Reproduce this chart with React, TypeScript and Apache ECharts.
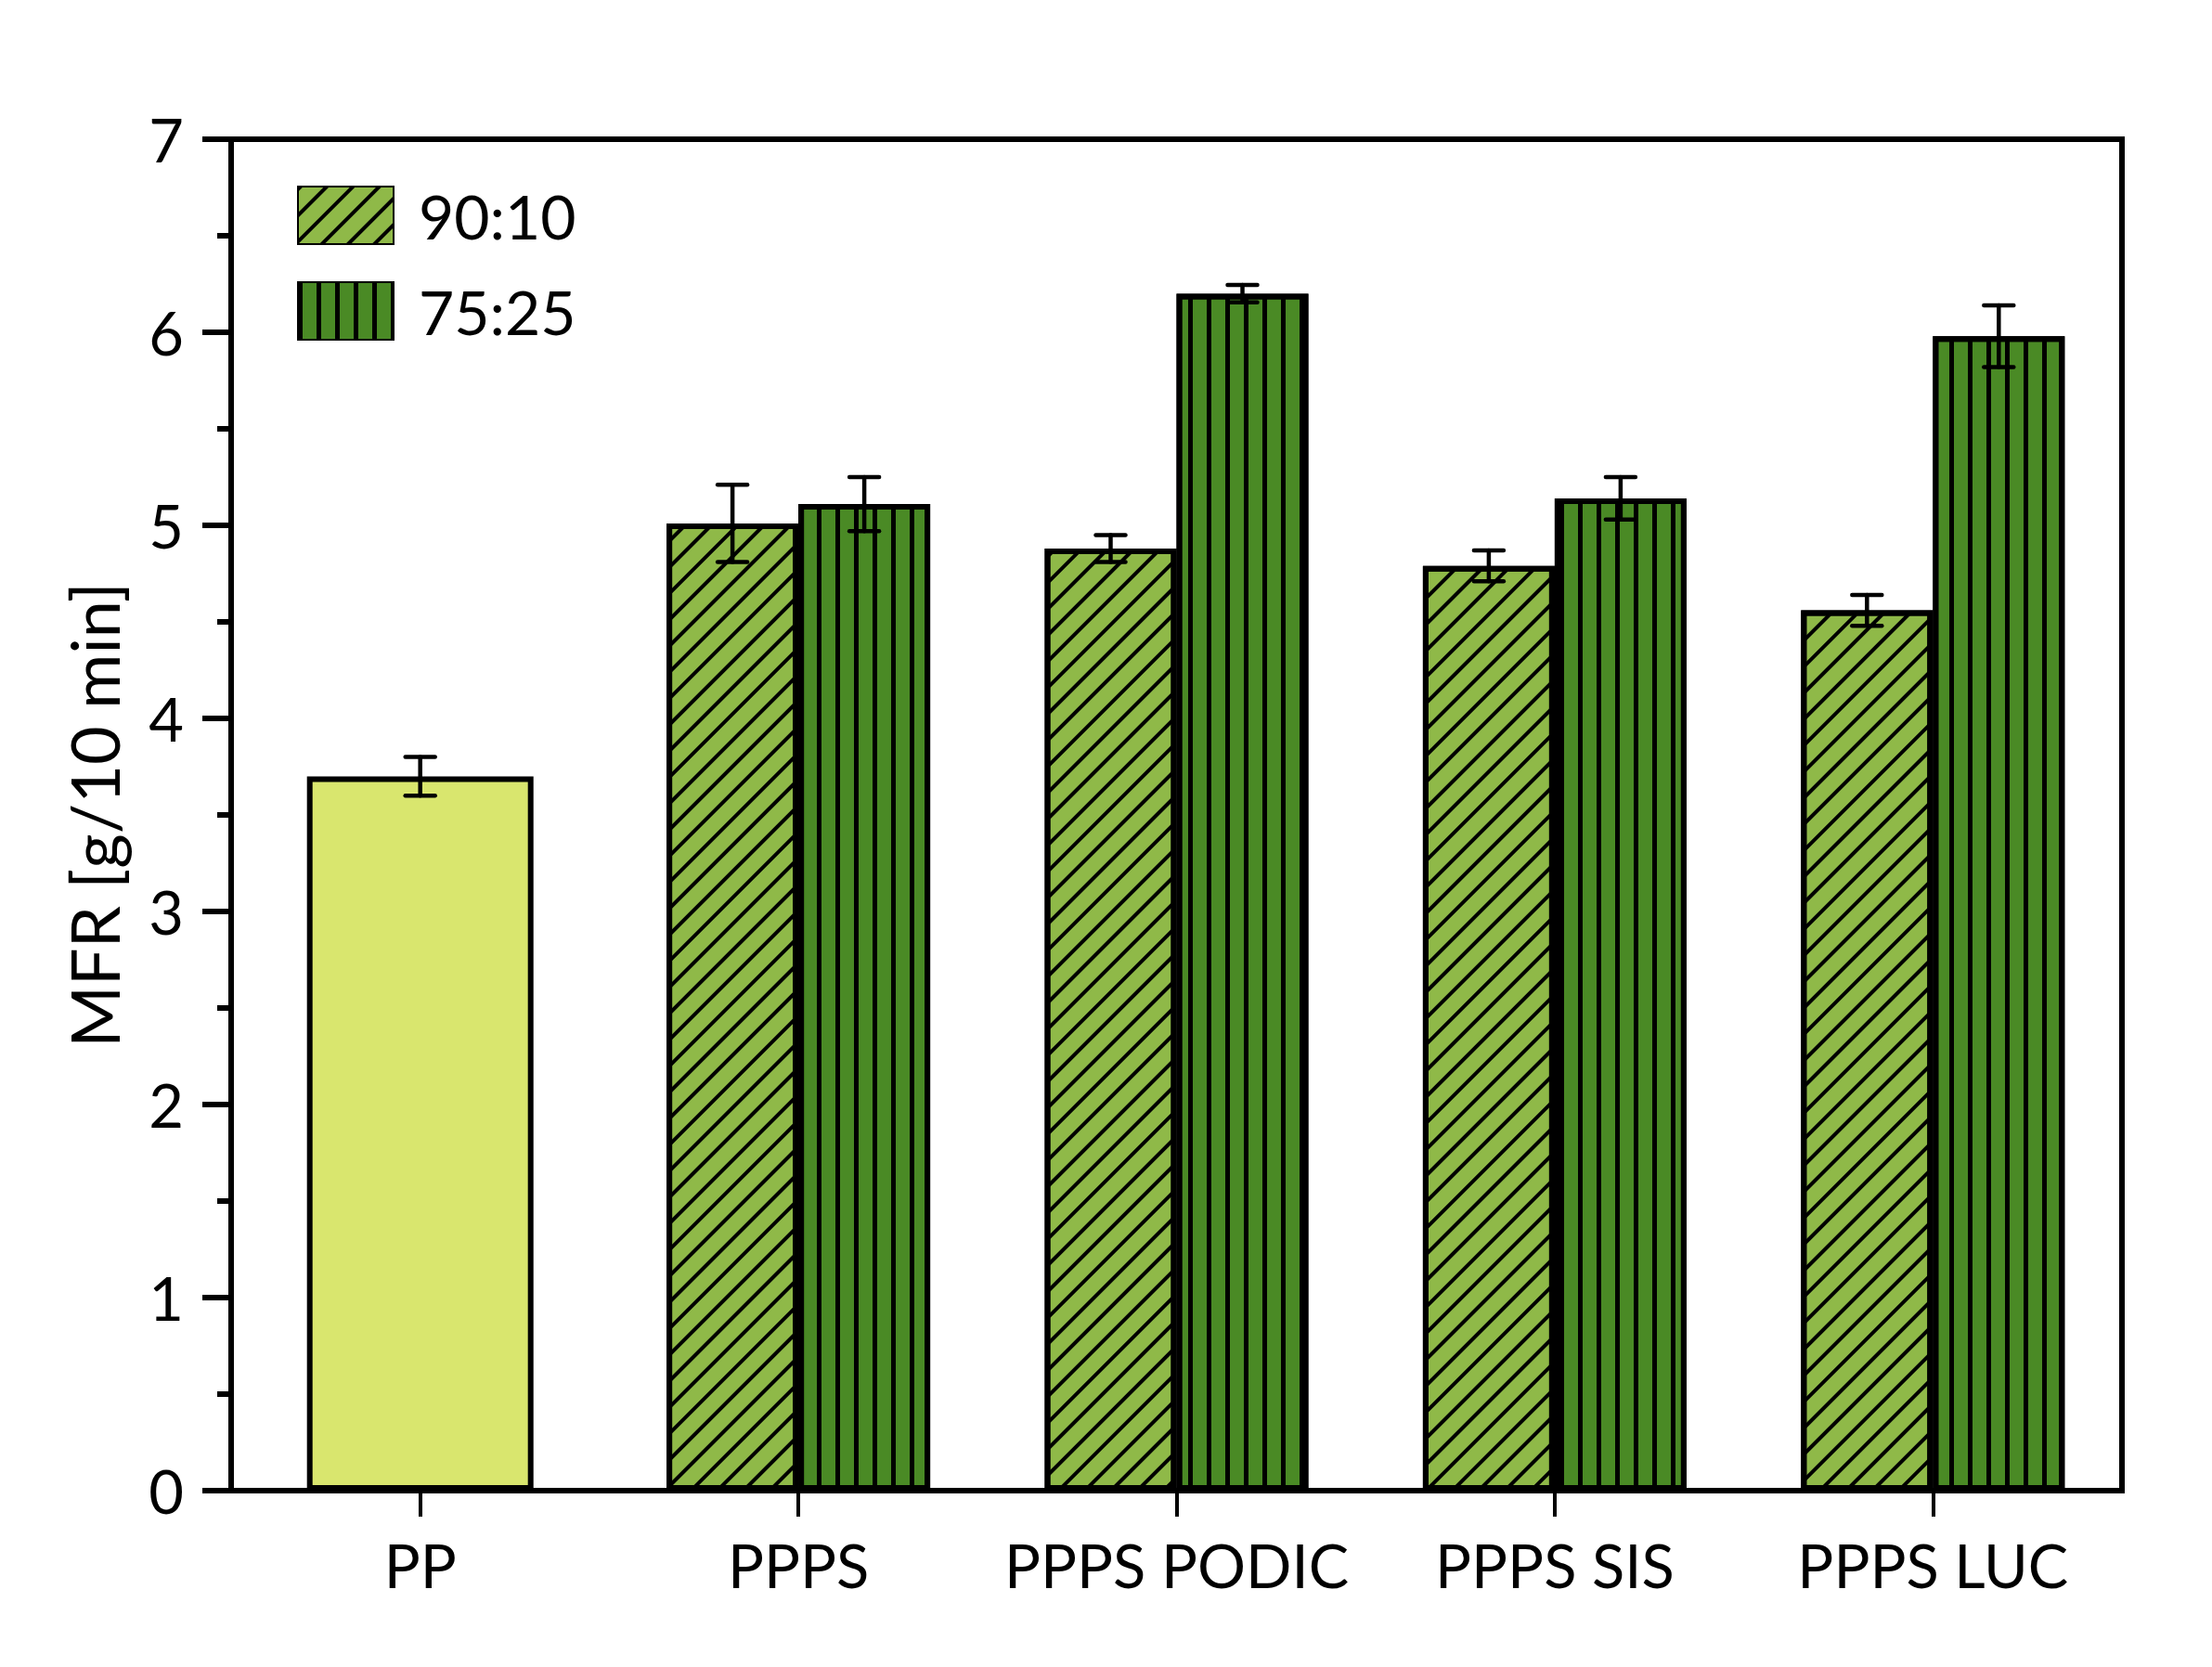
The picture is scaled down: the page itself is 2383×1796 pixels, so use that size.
import React, { useEffect, useRef } from 'react';
import * as echarts from 'echarts';

const categories = ['PP', 'PPPS', 'PPPS PODIC', 'PPPS SIS', 'PPPS LUC'];
const ppValues = [3.7, null, null, null, null];
const ppErrors = [0.1, null, null, null, null];
const ratio9010Values = [null, 5.01, 4.88, 4.79, 4.56];
const ratio9010Errors = [null, 0.2, 0.07, 0.08, 0.08];
const ratio7525Values = [null, 5.11, 6.2, 5.14, 5.98];
const ratio7525Errors = [null, 0.14, 0.045, 0.11, 0.16];
const seriesNames = ['90:10', '75:25'];
const yAxisName = 'MFR [g/10 min]';

const FONT = 'Lato';
const GROUP_BAR_W = 142;
const PP_BAR_W = 244;

function toBar(arr: (number | null)[]) {
  return arr.map((v) => (v == null ? '-' : v));
}
function toErr(vals: (number | null)[], errs: (number | null)[]) {
  const out: number[][] = [];
  vals.forEach((v, i) => {
    if (v != null && errs[i] != null) out.push([i, v, errs[i] as number]);
  });
  return out;
}

function errSeries(data: number[][], offset: number, xAxisIndex: number) {
  return {
    type: 'custom',
    xAxisIndex,
    yAxisIndex: 0,
    z: 5,
    silent: true,
    encode: { x: 0, y: 1 },
    data,
    renderItem: (params: any, api: any) => {
      const i = api.value(0);
      const v = api.value(1);
      const e = api.value(2);
      const c = api.coord([i, v]);
      const hi = api.coord([i, v + e]);
      const lo = api.coord([i, v - e]);
      const x = c[0] + offset;
      const half = 16;
      const st = { stroke: '#000', lineWidth: 4.5, fill: 'none', lineCap: 'round' };
      return {
        type: 'group',
        children: [
          { type: 'line', shape: { x1: x, y1: hi[1], x2: x, y2: lo[1] }, style: st },
          { type: 'line', shape: { x1: x - half, y1: hi[1], x2: x + half, y2: hi[1] }, style: st },
          { type: 'line', shape: { x1: x - half, y1: lo[1], x2: x + half, y2: lo[1] }, style: st },
        ],
      };
    },
  };
}

export default function App() {
  const ref = useRef<HTMLDivElement>(null);
  useEffect(() => {
    if (!ref.current) return;
    const chart = echarts.init(ref.current, null, { renderer: 'svg' });
    const axisLineStyle = { color: '#000', width: 6, cap: 'square' };
    const option: any = {
      animation: false,
      backgroundColor: '#fff',
      textStyle: { fontFamily: FONT, color: '#000' },
      grid: { left: 249, right: 97, top: 150, bottom: 190, containLabel: false },
      legend: {
        left: 315,
        top: 194,
        orient: 'vertical',
        data: seriesNames,
        icon: 'rect',
        itemWidth: 103,
        itemHeight: 62,
        itemGap: 37,
        textStyle: { fontSize: 66, color: '#000', fontFamily: FONT, padding: [0, 0, 0, 22] },
      },
      xAxis: [
        {
          type: 'category',
          data: categories,
          position: 'bottom',
          axisLine: { show: true, onZero: false, lineStyle: axisLineStyle },
          axisTick: { show: true, alignWithLabel: true, length: 28, lineStyle: { color: '#000', width: 4 } },
          axisLabel: { fontSize: 65, color: '#000', fontFamily: FONT, margin: 47, interval: 0 },
          splitLine: { show: false },
        },
        {
          type: 'category',
          data: categories,
          position: 'top',
          axisLine: { show: true, onZero: false, lineStyle: axisLineStyle },
          axisTick: { show: false },
          axisLabel: { show: false },
          splitLine: { show: false },
        },
      ],
      yAxis: [
        {
          type: 'value',
          min: 0,
          max: 7,
          interval: 1,
          position: 'left',
          name: yAxisName,
          nameLocation: 'middle',
          nameGap: 112,
          nameTextStyle: { fontSize: 72, color: '#000', fontFamily: FONT },
          axisLine: { show: true, onZero: false, lineStyle: axisLineStyle },
          axisTick: { show: true, length: 31, lineStyle: { color: '#000', width: 6 } },
          minorTick: { show: true, splitNumber: 2, length: 15, lineStyle: { color: '#000', width: 6 } },
          axisLabel: { fontSize: 65, color: '#000', fontFamily: FONT, margin: 51 },
          splitLine: { show: false },
        },
        {
          type: 'value',
          min: 0,
          max: 7,
          interval: 1,
          position: 'right',
          axisLine: { show: true, onZero: false, lineStyle: axisLineStyle },
          axisTick: { show: false },
          axisLabel: { show: false },
          splitLine: { show: false },
        },
      ],
      series: [
        {
          name: 'PP',
          type: 'bar',
          xAxisIndex: 1,
          yAxisIndex: 0,
          barWidth: PP_BAR_W,
          data: toBar(ppValues),
          itemStyle: { color: '#d9e66e', borderColor: '#000', borderWidth: 6 },
        },
        {
          name: seriesNames[0],
          type: 'bar',
          xAxisIndex: 0,
          yAxisIndex: 0,
          barWidth: GROUP_BAR_W,
          barGap: '0%',
          data: toBar(ratio9010Values),
          itemStyle: {
            color: '#8fb948',
            borderColor: '#000',
            borderWidth: 6,
            decal: {
              symbol: 'rect',
              symbolSize: 1,
              color: '#000',
              dashArrayX: [3.8, 15.1],
              dashArrayY: [10, 0],
              rotation: Math.PI / 4,
            },
          },
        },
        {
          name: seriesNames[1],
          type: 'bar',
          xAxisIndex: 0,
          yAxisIndex: 0,
          barWidth: GROUP_BAR_W,
          barGap: '0%',
          data: toBar(ratio7525Values),
          itemStyle: {
            color: '#4a8a25',
            borderColor: '#000',
            borderWidth: 6,
            decal: {
              symbol: 'rect',
              symbolSize: 1,
              color: '#000',
              dashArrayX: [4.5, 14.9],
              dashArrayY: [10, 0],
              rotation: 0,
            },
          },
        },
        errSeries(toErr(ppValues, ppErrors), 0, 1),
        errSeries(toErr(ratio9010Values, ratio9010Errors), -GROUP_BAR_W / 2, 0),
        errSeries(toErr(ratio7525Values, ratio7525Errors), GROUP_BAR_W / 2, 0),
      ],
    };
    chart.setOption(option);
    return () => chart.dispose();
  }, []);
  return (
    <div
      ref={ref}
      style={{ position: 'fixed', left: 0, top: 0, width: 2383, height: 1796, background: '#fff' }}
    />
  );
}
